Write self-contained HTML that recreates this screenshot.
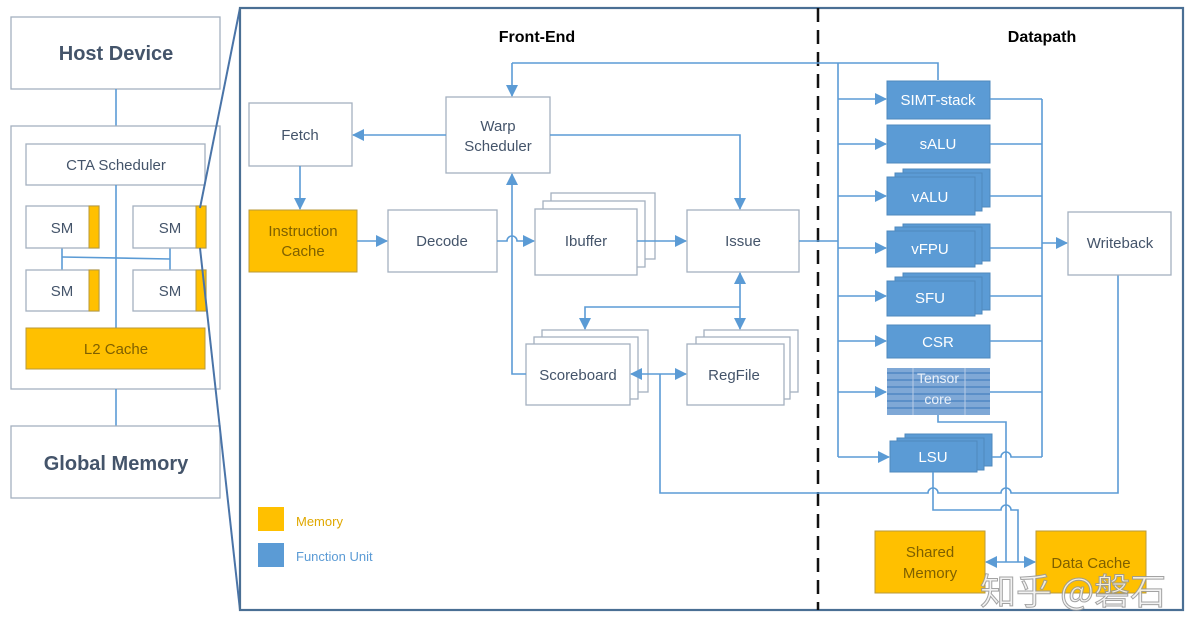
<!DOCTYPE html>
<html><head><meta charset="utf-8"><style>
html,body{margin:0;padding:0;background:#fff;}
svg{display:block;font-family:"Liberation Sans","Noto Sans CJK SC",sans-serif;}
.b{fill:#fff;stroke:#a5b1bf;stroke-width:1.3}
.o{fill:#ffc000;stroke:#b99a3a;stroke-width:1}
.u{fill:#5b9bd5;stroke:#4f88bd;stroke-width:1}
.l{fill:none;stroke:#5b9bd5;stroke-width:1.6}
.t{fill:#44546a;font-size:15px;text-anchor:middle}
.tw{fill:#fff;font-size:15px;text-anchor:middle}
.to{fill:#7f6000;font-size:15px;text-anchor:middle}
</style></head><body>
<svg width="1201" height="639" viewBox="0 0 1201 639">
<defs>
<marker id="a" markerWidth="8" markerHeight="8" refX="7" refY="4" orient="auto-start-reverse" markerUnits="userSpaceOnUse"><path d="M0,0 L8,4 L0,8 z" fill="#5b9bd5"/></marker>
<marker id="a2" markerWidth="12" markerHeight="12" refX="11" refY="6" orient="auto-start-reverse" markerUnits="userSpaceOnUse"><path d="M0,0 L12,6 L0,12 z" fill="#5b9bd5"/></marker>
</defs>
<!-- Left side -->
<rect class="b" x="11" y="17" width="209" height="72"/>
<text x="116" y="60" fill="#44546a" font-size="20" font-weight="bold" text-anchor="middle">Host Device</text>
<line class="l" x1="116" y1="89" x2="116" y2="126"/>
<rect class="b" x="11" y="126" width="209" height="263"/>
<rect class="b" x="26" y="144" width="179" height="41"/>
<text class="t" x="116" y="170">CTA Scheduler</text>
<line class="l" x1="116" y1="185" x2="116" y2="328"/>
<line class="l" x1="62" y1="257" x2="170" y2="259"/>
<line class="l" x1="62" y1="248" x2="62" y2="270"/>
<line class="l" x1="170" y1="248" x2="170" y2="270"/>
<rect class="b" x="26" y="206" width="73" height="42"/><rect class="o" x="89" y="206" width="10" height="42"/><text class="t" x="62" y="233">SM</text>
<rect class="b" x="133" y="206" width="73" height="42"/><rect class="o" x="196" y="206" width="10" height="42"/><text class="t" x="170" y="233">SM</text>
<rect class="b" x="26" y="270" width="73" height="41"/><rect class="o" x="89" y="270" width="10" height="41"/><text class="t" x="62" y="296">SM</text>
<rect class="b" x="133" y="270" width="73" height="41"/><rect class="o" x="196" y="270" width="10" height="41"/><text class="t" x="170" y="296">SM</text>
<rect class="o" x="26" y="328" width="179" height="41"/><text class="to" x="116" y="354">L2 Cache</text>
<line class="l" x1="116" y1="389" x2="116" y2="426"/>
<rect class="b" x="11" y="426" width="209" height="72"/>
<text x="116" y="470" fill="#44546a" font-size="20" font-weight="bold" text-anchor="middle">Global Memory</text>
<line x1="240" y1="8" x2="200" y2="208" stroke="#4a74a8" stroke-width="2"/>
<line x1="200" y1="248" x2="240" y2="610" stroke="#4a74a8" stroke-width="2"/>
<!-- Main -->
<rect x="240" y="8" width="943" height="602" fill="none" stroke="#4a6f94" stroke-width="2.2"/>
<line x1="818" y1="8" x2="818" y2="610" stroke="#111" stroke-width="2.5" stroke-dasharray="14,8"/>
<text x="537" y="42" font-size="16" font-weight="bold" text-anchor="middle" fill="#000">Front-End</text>
<text x="1042" y="42" font-size="16" font-weight="bold" text-anchor="middle" fill="#000">Datapath</text>

<rect class="b" x="249" y="103" width="103" height="63"/><text class="t" x="300" y="140">Fetch</text>
<rect class="b" x="446" y="97" width="104" height="76"/><text class="t" x="498" y="131">Warp</text><text class="t" x="498" y="151">Scheduler</text>
<rect class="o" x="249" y="210" width="108" height="62"/><text class="to" x="303" y="236">Instruction</text><text class="to" x="303" y="256">Cache</text>
<rect class="b" x="388" y="210" width="109" height="62"/><text class="t" x="442" y="246">Decode</text>
<rect class="b" x="551" y="193" width="104" height="66"/><rect class="b" x="543" y="201" width="102" height="66"/><rect class="b" x="535" y="209" width="102" height="66"/><text class="t" x="586" y="246">Ibuffer</text>
<rect class="b" x="687" y="210" width="112" height="62"/><text class="t" x="743" y="246">Issue</text>
<rect class="b" x="542" y="330" width="106" height="62"/><rect class="b" x="534" y="337" width="104" height="62"/><rect class="b" x="526" y="344" width="104" height="61"/><text class="t" x="578" y="380">Scoreboard</text>
<rect class="b" x="704" y="330" width="94" height="62"/><rect class="b" x="696" y="337" width="94" height="62"/><rect class="b" x="687" y="344" width="97" height="61"/><text class="t" x="734" y="380">RegFile</text>

<!-- front-end connectors -->
<line class="l" x1="446" y1="135" x2="353" y2="135" marker-end="url(#a2)"/>
<line class="l" x1="300" y1="166" x2="300" y2="209" marker-end="url(#a2)"/>
<line class="l" x1="357" y1="241" x2="387" y2="241" marker-end="url(#a2)"/>
<path class="l" d="M497,241 H507 a5,5 0 0 1 10,0 H534" marker-end="url(#a2)"/>
<line class="l" x1="637" y1="241" x2="686" y2="241" marker-end="url(#a2)"/>
<path class="l" d="M550,135 H740 V209" marker-end="url(#a2)"/>
<path class="l" d="M526,374 H512 V174" marker-end="url(#a2)"/>
<path class="l" d="M512,63 H938 V80"/>
<line class="l" x1="512" y1="63" x2="512" y2="96" marker-end="url(#a2)"/>
<line class="l" x1="740" y1="273" x2="740" y2="329" marker-start="url(#a2)" marker-end="url(#a2)"/>
<path class="l" d="M740,307 H585 V329" marker-end="url(#a2)"/>
<line class="l" x1="631" y1="374" x2="686" y2="374" marker-start="url(#a2)" marker-end="url(#a2)"/>
<path class="l" d="M660,374 V493 H928 a5,5 0 0 1 10,0 H1001 a5,5 0 0 1 10,0 H1118 V275"/>
<line class="l" x1="799" y1="241" x2="838" y2="241"/>
<line class="l" x1="838" y1="63" x2="838" y2="457"/>

<!-- units -->
<rect class="u" x="887" y="81" width="103" height="38"/><text class="tw" x="938" y="105">SIMT-stack</text>
<rect class="u" x="887" y="125" width="103" height="38"/><text class="tw" x="938" y="149">sALU</text>
<rect class="u" x="903" y="169" width="87" height="38"/><rect class="u" x="895" y="173" width="87" height="38"/><rect class="u" x="887" y="177" width="88" height="38"/><text class="tw" x="930" y="202">vALU</text>
<rect class="u" x="903" y="224" width="87" height="37"/><rect class="u" x="895" y="227" width="87" height="37"/><rect class="u" x="887" y="231" width="88" height="36"/><text class="tw" x="930" y="254">vFPU</text>
<rect class="u" x="903" y="273" width="87" height="37"/><rect class="u" x="895" y="277" width="87" height="37"/><rect class="u" x="887" y="281" width="88" height="35"/><text class="tw" x="930" y="303">SFU</text>
<rect class="u" x="887" y="325" width="103" height="33"/><text class="tw" x="938" y="347">CSR</text>
<rect x="887" y="368" width="103" height="47" fill="#7fa8d6"/>
<g stroke="#5b8fc8" stroke-width="2">
<line x1="887" y1="373" x2="990" y2="373"/><line x1="887" y1="380" x2="990" y2="380"/><line x1="887" y1="387" x2="990" y2="387"/><line x1="887" y1="394" x2="990" y2="394"/><line x1="887" y1="401" x2="990" y2="401"/><line x1="887" y1="408" x2="990" y2="408"/>
</g>
<g stroke="#b8cde6" stroke-width="1"><line x1="913" y1="368" x2="913" y2="415"/><line x1="965" y1="368" x2="965" y2="415"/></g>
<text x="938" y="383" fill="#eaf1fa" font-size="14" text-anchor="middle">Tensor</text><text x="938" y="404" fill="#eaf1fa" font-size="14" text-anchor="middle">core</text>
<rect class="u" x="905" y="434" width="87" height="32"/><rect class="u" x="897" y="438" width="87" height="32"/><rect class="u" x="890" y="441" width="87" height="31"/><text class="tw" x="933" y="462">LSU</text>

<g>
<line class="l" x1="838" y1="99" x2="886" y2="99" marker-end="url(#a2)"/>
<line class="l" x1="838" y1="144" x2="886" y2="144" marker-end="url(#a2)"/>
<line class="l" x1="838" y1="196" x2="886" y2="196" marker-end="url(#a2)"/>
<line class="l" x1="838" y1="248" x2="886" y2="248" marker-end="url(#a2)"/>
<line class="l" x1="838" y1="296" x2="886" y2="296" marker-end="url(#a2)"/>
<line class="l" x1="838" y1="341" x2="886" y2="341" marker-end="url(#a2)"/>
<line class="l" x1="838" y1="392" x2="886" y2="392" marker-end="url(#a2)"/>
<path class="l" d="M838,457 H889" marker-end="url(#a2)"/>
</g>
<g>
<line class="l" x1="990" y1="99" x2="1042" y2="99"/>
<line class="l" x1="990" y1="144" x2="1042" y2="144"/>
<line class="l" x1="990" y1="196" x2="1042" y2="196"/>
<line class="l" x1="990" y1="248" x2="1042" y2="248"/>
<line class="l" x1="990" y1="296" x2="1042" y2="296"/>
<line class="l" x1="990" y1="341" x2="1042" y2="341"/>
<line class="l" x1="990" y1="392" x2="1042" y2="392"/>
<path class="l" d="M992,457 H1001 a5,5 0 0 1 10,0 H1042"/>
<line class="l" x1="1042" y1="99" x2="1042" y2="457"/>
<line class="l" x1="1042" y1="243" x2="1067" y2="243" marker-end="url(#a2)"/>
</g>
<rect class="b" x="1068" y="212" width="103" height="63"/><text class="t" x="1120" y="248">Writeback</text>

<path class="l" d="M938,415 V422 H1006 V562"/>
<path class="l" d="M933,472 V510 H1001 a5,5 0 0 1 10,0 H1018 V562"/>
<line class="l" x1="986" y1="562" x2="1035" y2="562" marker-start="url(#a2)" marker-end="url(#a2)"/>
<rect class="o" x="875" y="531" width="110" height="62"/><text class="to" x="930" y="557">Shared</text><text class="to" x="930" y="578">Memory</text>
<rect class="o" x="1036" y="531" width="110" height="62"/><text class="to" x="1091" y="568">Data Cache</text>

<!-- legend -->
<rect x="258" y="507" width="26" height="24" fill="#ffc000"/><text x="296" y="526" fill="#e0a800" font-size="13">Memory</text>
<rect x="258" y="543" width="26" height="24" fill="#5b9bd5"/><text x="296" y="561" fill="#5b9bd5" font-size="13">Function Unit</text>

<!-- watermark -->
<text x="980" y="604" font-size="36" fill="#f2f2f2" stroke="#9a9a9a" stroke-width="1" font-family="'Noto Sans CJK SC',sans-serif" opacity="0.9">知乎 @磐石</text>
</svg>
</body></html>
